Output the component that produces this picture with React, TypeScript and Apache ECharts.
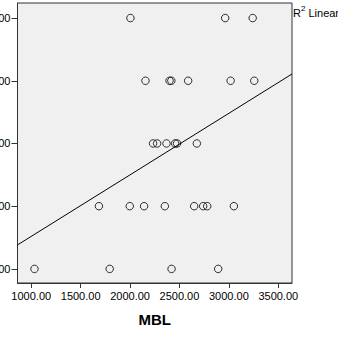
import React, { useEffect, useRef } from "react";
import * as echarts from "echarts";

// MBL values (x) and their category score (y)
const mblValues = [
  2004, 2963, 3241,
  2156, 2400, 2418, 2588, 3018, 3257,
  2233, 2274, 2369, 2456, 2476, 2676,
  1685, 1997, 2142, 2352, 2649, 2740, 2781, 3051,
  1033, 1794, 2420, 2892,
];
const scoreValues = [
  5, 5, 5,
  4, 4, 4, 4, 4, 4,
  3, 3, 3, 3, 3, 3,
  2, 2, 2, 2, 2, 2, 2, 2,
  1, 1, 1, 1,
];
// fit line endpoints (x at plot edges, y)
const fitLineX = [861, 3639];
const fitLineY = [1.382, 4.108];

const xTicks = [1000, 1500, 2000, 2500, 3000, 3500];
const yTicks = [1, 2, 3, 4, 5];

export default function App() {
  const ref = useRef<HTMLDivElement>(null);
  useEffect(() => {
    if (!ref.current) return;
    const chart = echarts.init(ref.current, undefined, { renderer: "svg" });
    const font = "Liberation Sans, Arial, sans-serif";
    chart.setOption({
      animation: false,
      backgroundColor: "#ffffff",
      grid: {
        left: 17.5,
        right: 46,
        top: 3,
        bottom: 55,
        containLabel: false,
        outerBoundsMode: "none",
        show: true,
        backgroundColor: "#f0f0f0",
        borderColor: "#333333",
        borderWidth: 1,
      },
      xAxis: {
        type: "value",
        min: 861,
        max: 3639,
        name: "MBL",
        nameLocation: "middle",
        nameGap: 29,
        nameTextStyle: { fontFamily: font, fontSize: 15, fontWeight: "bold", color: "#000" },
        axisLine: { show: true, lineStyle: { color: "#333333", width: 1 } },
        axisTick: { show: true, length: 5, customValues: xTicks, lineStyle: { color: "#333333" } },
        axisLabel: {
          customValues: xTicks,
          formatter: (v: number) => v.toFixed(2),
          fontFamily: font,
          fontSize: 11,
          color: "#000",
          margin: 7,
        },
        splitLine: { show: false },
      },
      yAxis: {
        type: "value",
        min: 0.775,
        max: 5.24,
        axisLine: { show: true, lineStyle: { color: "#333333", width: 1 } },
        axisTick: { show: true, length: 6, customValues: yTicks, lineStyle: { color: "#333333" } },
        axisLabel: {
          customValues: yTicks,
          formatter: (v: number) => v.toFixed(2),
          fontFamily: font,
          fontSize: 11,
          color: "#000",
          margin: 7,
        },
        splitLine: { show: false },
      },
      graphic: [
        {
          type: "text",
          left: 293,
          top: 4,
          style: {
            text: "{r|R}{s|2}{r| Linear}",
            rich: {
              r: { fontFamily: font, fontSize: 11, fill: "#000", verticalAlign: "bottom", lineHeight: 14 },
              s: { fontFamily: font, fontSize: 8, fill: "#000", verticalAlign: "top", lineHeight: 14, padding: [0, 0, 6, 0] },
            },
          },
        },
      ],
      series: [
        {
          type: "line",
          data: fitLineX.map((x, i) => [x, fitLineY[i]]),
          symbol: "none",
          lineStyle: { color: "#000", width: 1 },
          silent: true,
          z: 3,
        },
        {
          type: "scatter",
          data: mblValues.map((x, i) => [x, scoreValues[i]]),
          symbol: "circle",
          symbolSize: 7.5,
          itemStyle: { color: "rgba(0,0,0,0)", borderColor: "#000", borderWidth: 1 },
          z: 4,
        },
      ],
    });
    return () => chart.dispose();
  }, []);
  return (
    <div
      ref={ref}
      style={{ position: "fixed", left: 0, top: 0, width: 338, height: 338 }}
    />
  );
}
